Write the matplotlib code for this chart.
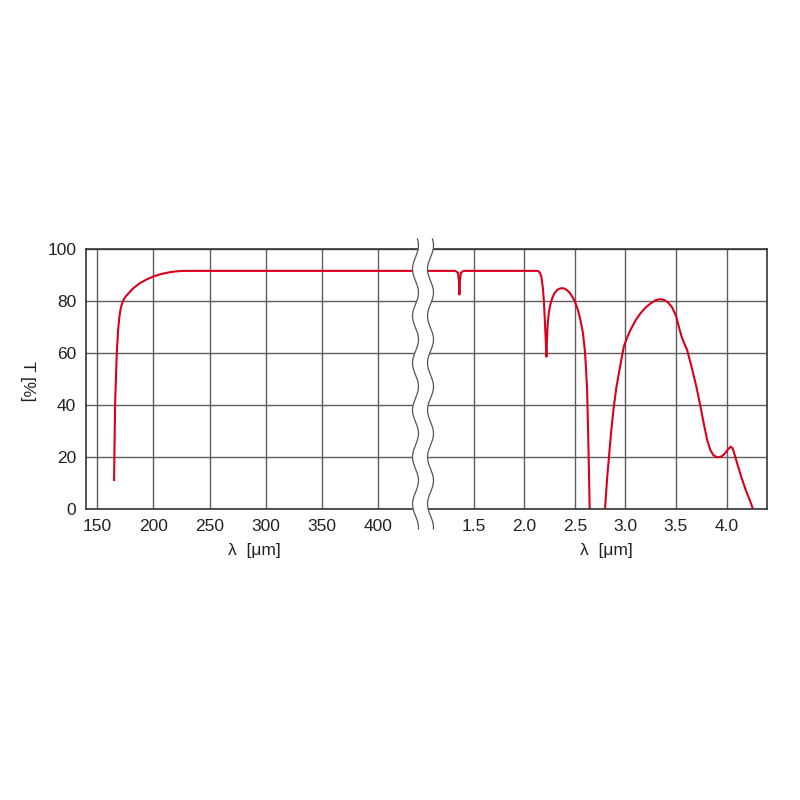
import matplotlib
matplotlib.use('Agg')
import matplotlib.pyplot as plt
import numpy

plt.rcParams['font.family'] = ['Liberation Sans', 'DejaVu Sans']

# left part: wavelength as labelled on the chart
uvWave = [165.0, 165.9, 167.4, 168.5, 169.7, 171.0, 172.7, 174.5, 177.7, 182.0, 188.0,
          194.0, 200.3, 207.0, 214.8, 220.0, 226.7, 440.0]
uvTrans = [11.3, 40.8, 60.0, 68.5, 74.0, 77.5, 79.9, 81.4, 83.0, 85.0, 87.0,
           88.4, 89.6, 90.5, 91.2, 91.5, 91.7, 91.7]

# right part: wavelength in um
irWave = [1.0, 1.32, 1.345, 1.355, 1.36, 1.365, 1.375, 1.40, 2.137, 2.155, 2.17, 2.185,
          2.195, 2.205, 2.213, 2.22, 2.224, 2.232, 2.245, 2.26, 2.28, 2.30, 2.33, 2.36,
          2.39, 2.42, 2.45, 2.48, 2.5, 2.53, 2.556, 2.58, 2.60, 2.61, 2.622, 2.632,
          2.640, 2.648]
irTrans = [91.7, 91.7, 91.0, 88.0, 82.6, 88.0, 91.0, 91.7, 91.7, 91.0, 89.5, 85.0,
           80.0, 72.0, 65.0, 58.7, 64.0, 71.0, 76.0, 79.0, 81.5, 83.2, 84.5, 85.0,
           85.0, 84.4, 83.3, 81.5, 80.0, 76.8, 72.8, 68.0, 61.0, 55.0, 45.9, 30.0,
           15.0, -1.0]
irWave2 = [2.797, 2.82, 2.84, 2.86, 2.886, 2.91, 2.936, 2.96, 2.985, 3.02, 3.051, 3.10,
           3.15, 3.20, 3.25, 3.30, 3.34, 3.38, 3.42, 3.46, 3.50, 3.53, 3.555, 3.58,
           3.61, 3.65, 3.70, 3.74, 3.78, 3.81, 3.84, 3.87, 3.91, 3.95, 3.98, 4.01,
           4.04, 4.06, 4.08, 4.11, 4.15, 4.19, 4.23, 4.272]
irTrans2 = [-1.0, 12.0, 21.0, 30.0, 39.5, 46.5, 52.3, 57.5, 62.6, 66.3, 69.0, 72.6,
            75.4, 77.6, 79.2, 80.4, 80.8, 80.6, 79.6, 77.8, 74.5, 70.0, 66.5, 64.0,
            61.3, 55.5, 47.5, 40.0, 32.0, 26.5, 22.8, 20.8, 20.0, 20.3, 21.3, 22.8,
            24.1, 23.5, 21.0, 17.0, 12.0, 7.4, 3.5, -1.0]

uvTicks = [150, 200, 250, 300, 350, 400]
irTicks = [1.5, 2.0, 2.5, 3.0, 3.5, 4.0]
yTicks = [0, 20, 40, 60, 80, 100]

red = '#d9001b'
gridColor = '#5e5e5e'
textColor = '#222222'
fs = 12.5

fig = plt.figure(figsize=(8, 8), dpi=100)
axL = fig.add_axes([86 / 800, 1 - 509.3 / 800, 337 / 800, 260 / 800])
axR = fig.add_axes([423 / 800, 1 - 509.3 / 800, 344 / 800, 260 / 800])

for ax in (axL, axR):
    ax.set_ylim(0, 100)
    ax.set_yticks(yTicks)
    ax.grid(True, color=gridColor, linewidth=1.0)
    ax.set_axisbelow(True)
    ax.tick_params(length=0, labelsize=fs, colors=textColor)
    ax.tick_params(axis='x', pad=7)
    ax.tick_params(axis='y', pad=7)
    for s in ax.spines.values():
        s.set_color('#333333')
        s.set_linewidth(1.2)

axL.set_xlim(140, 440)
axL.set_xticks(uvTicks)
axL.spines['right'].set_visible(False)
axL.plot(uvWave, uvTrans, color=red, linewidth=1.5)

axR.set_xlim(1.0, 4.4)
axR.set_xticks(irTicks)
axR.set_xticklabels(['%.1f' % t for t in irTicks])
axR.spines['left'].set_visible(False)
axR.tick_params(axis='y', labelleft=False)
axR.plot(irWave, irTrans, color=red, linewidth=1.5)
axR.plot(irWave2, irTrans2, color=red, linewidth=1.5)

# wavy axis break
yy = numpy.linspace(239, 529, 500)
wiggle = 3.0 * numpy.cos((yy - 292.5) / 47.0 * 2 * numpy.pi)
xa = 415.5 + wiggle
xb = 430.5 + wiggle
fig.patches.append(plt.Polygon(
    numpy.column_stack([numpy.concatenate([xa, xb[::-1]]) / 800,
                        1 - numpy.concatenate([yy, yy[::-1]]) / 800]),
    closed=True, facecolor='white', edgecolor='none', transform=fig.transFigure, zorder=5))
for xs in (xa, xb):
    fig.lines.append(plt.Line2D(xs / 800, 1 - yy / 800, color='#555555', linewidth=0.9,
                                transform=fig.transFigure, zorder=6))

fig.text(254 / 800, 1 - 551 / 800, 'λ  [μm]', ha='center', va='center', fontsize=fs, color=textColor)
fig.text(606 / 800, 1 - 551 / 800, 'λ  [μm]', ha='center', va='center', fontsize=fs, color=textColor)
fig.text(27 / 800, 1 - 381 / 800, 'T [%]', ha='center', va='center', rotation=270,
         fontsize=fs, color=textColor)

fig.savefig('out.png', dpi=100, facecolor='white')
